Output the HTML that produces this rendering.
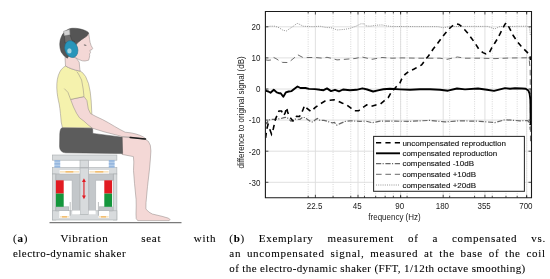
<!DOCTYPE html>
<html><head><meta charset="utf-8">
<style>
html,body{margin:0;padding:0;background:#fff;}
body{width:550px;height:279px;overflow:hidden;position:relative;}
svg{position:absolute;left:0;top:0;}
.gd{stroke:#bdbdbd;stroke-width:0.6;stroke-dasharray:1 1.3;fill:none}
.gm{stroke:#dcdcdc;stroke-width:0.9;fill:none}
.tk{stroke:#222;stroke-width:0.8;fill:none}
.c20{stroke:#8a8a8a;stroke-width:0.9;stroke-dasharray:1 1.2;fill:none}
.c10{stroke:#6a6a6a;stroke-width:1.0;stroke-dasharray:5.6 3.8;fill:none}
.cm10{stroke:#666;stroke-width:1.2;stroke-dasharray:5.2 1.4 1.1 1.7;fill:none}
.cc{stroke:#000;stroke-width:1.9;fill:none;stroke-linejoin:round}
.cu{stroke:#000;stroke-width:1.6;stroke-dasharray:5.2 4.2;fill:none}
.pt text{font-family:"Liberation Sans",sans-serif;font-size:8px;fill:#1a1a1a}
.lg text{stroke:#111;stroke-width:0.12px;fill:#111}
.cap{position:absolute;font-family:"Liberation Serif",serif;font-size:11px;color:#000;line-height:15px;letter-spacing:0.38px;-webkit-text-stroke:0.08px #000;}
.cap div{white-space:nowrap;}
.j{text-align:justify;text-align-last:justify;letter-spacing:0.72px;}
</style></head><body>
<svg width="550" height="279" viewBox="0 0 550 279">
<g id="illus">
<!-- floor -->
<line x1="49.5" y1="222.6" x2="181.5" y2="222.6" stroke="#7a7a7a" stroke-width="1.1"/>
<!-- seat / shaker -->
<g stroke="#a9adb0" stroke-width="0.6">
<rect x="52.3" y="155" width="64.6" height="5.2" fill="#d8dbdd"/>
<rect x="80" y="160.2" width="8.6" height="8" fill="#d8dbdd"/>
<rect x="52.3" y="167.6" width="64.6" height="6.4" fill="#d8dbdd"/>
<rect x="52.3" y="174" width="3.6" height="46" fill="#d8dbdd"/>
<rect x="113.3" y="174" width="3.6" height="46" fill="#d8dbdd"/>
<rect x="52.3" y="210.8" width="64.6" height="9.2" fill="#d8dbdd"/>
<!-- pole pieces -->
<path d="M55.9 174.4H79.8V210.6H72.2V180.3H55.9Z" fill="#c3c7ca"/>
<path d="M113.3 174.4H88.7V210.6H95.6V180.3H113.3Z" fill="#c3c7ca"/>
<rect x="55.9" y="206.8" width="12.8" height="4.1" fill="#c3c7ca"/>
<rect x="99.6" y="206.8" width="13" height="4.1" fill="#c3c7ca"/>
<rect x="80" y="168" width="8.6" height="46.3" fill="#d8dbdd"/>
</g>
<!-- springs -->
<rect x="54.4" y="160.2" width="5.8" height="7.4" fill="#b4cde9"/>
<rect x="108.8" y="160.2" width="5.8" height="7.4" fill="#b4cde9"/>
<g stroke="#7ea6d6" stroke-width="0.9">
<line x1="54.4" y1="160.9" x2="60.2" y2="160.9"/><line x1="54.4" y1="163.9" x2="60.2" y2="163.9"/><line x1="54.4" y1="166.9" x2="60.2" y2="166.9"/>
<line x1="108.8" y1="160.9" x2="114.6" y2="160.9"/><line x1="108.8" y1="163.9" x2="114.6" y2="163.9"/><line x1="108.8" y1="166.9" x2="114.6" y2="166.9"/>
</g>
<!-- slots -->
<rect x="59.6" y="170" width="20" height="3.6" fill="#fff"/>
<rect x="89" y="170" width="20" height="3.6" fill="#fff"/>
<path d="M59.3 211H69.6V218H59.3Z M72.2 210.6H80V214.3H72.2Z" fill="#fff"/>
<path d="M98.6 211H109V218H98.6Z M88.7 210.6H95.6V214.3H88.7Z" fill="#fff"/>
<g stroke="#f6d49a" stroke-width="1">
<line x1="60" y1="171.9" x2="79.2" y2="171.9"/>
<line x1="89.4" y1="171.9" x2="108.6" y2="171.9"/>
<line x1="60" y1="216.9" x2="69.2" y2="216.9"/>
<line x1="99" y1="216.9" x2="108.6" y2="216.9"/>
</g>
<g stroke="#eda640" stroke-width="1">
<line x1="65.5" y1="171.9" x2="73.3" y2="171.9"/>
<line x1="95.2" y1="171.9" x2="103.3" y2="171.9"/>
<line x1="62" y1="216.9" x2="67" y2="216.9"/>
<line x1="101" y1="216.9" x2="106" y2="216.9"/>
</g>
<!-- magnets -->
<rect x="55.9" y="180.3" width="7.8" height="13.3" fill="#e11b22"/>
<rect x="55.9" y="193.6" width="7.8" height="13.2" fill="#14963c"/>
<rect x="104.3" y="180.3" width="7.8" height="13.3" fill="#e11b22"/>
<rect x="104.3" y="193.6" width="7.8" height="13.2" fill="#14963c"/>
<!-- coil lines -->
<path d="M70.2 202V215.7M98.4 202V215.7" fill="none" stroke="#9ea2a5" stroke-width="0.7"/>
<!-- arrow -->
<g fill="#e11b22" stroke="none">
<rect x="83.4" y="180.5" width="1.1" height="16.5"/>
<path d="M83.95 178.3L85.9 182H82Z"/>
<path d="M83.95 199.2L85.9 195.5H82Z"/>
</g>
<!-- person -->
<g stroke="#8d8482" stroke-width="0.5" stroke-linejoin="round">
<!-- leg -->
<path d="M121 136.8L136 138L145 139.2L148.3 141.3L150.3 145.2L150.9 151L150.3 160L149.5 169L147.5 186.6L146 202.7L145.9 209L148.8 212L152.3 214L162 216.3L168.2 218.1L170.2 219.6L169.2 220.6H137.7L136.2 218.6L136 214L136.2 206L136.1 199.5L134.5 183.4L133.5 170.5L133.8 162L133.4 156.6L122 154.4Z" fill="#f4d8d6"/>
<!-- shorts -->
<path d="M62.6 127.4L92.6 128.3L92.8 133.4L122.2 137.2L122.6 153.6L66 152.8C61.5 152.6 59.6 150 59.6 146L59.8 134C60 130 60.8 128 62.6 127.4Z" fill="#5c5c5c" stroke="#4a4a4a"/>
<!-- torso -->
<path d="M65.5 66C63 67.5 61.5 69 60 71.5C57.5 76 56.6 82 56.8 88C57 94 58 99 59.2 104C60.2 110 60.8 117 61.2 122L62.4 127.6L91.8 127.8L91.8 113L91.2 101L90.2 91.6L88.5 83.5L85.6 76.5L82.5 72.6L80.3 71.2C74 70 69 68 65.5 66Z" fill="#f5f2ad"/>
<!-- neck -->
<path d="M65 57.3L65.5 66C69 68 74 70 80.3 71.2L79.9 69.7L79.2 62.2L76.2 58L70 56Z" fill="#f4d8d6"/>
<!-- arm -->
<path d="M70.6 99.4L73.5 107L76.5 113.2L79.5 117.8L83.8 121L88 124.8L92.4 128.2L104 131.8L117.5 135.3L121.5 136.4L129.6 137L137 137.8L145 139.6L146.3 139.3L143.8 137.2L140.2 135.4L136 134L131.2 132.9L125.2 132.2L120 129.5L114.6 126.4L108.5 122.8L102.6 119.6L96 116.5L90.5 113.6L88.3 109L86.9 100.5L84 96.6Z" fill="#f4d8d6"/>
<!-- sleeve -->
<path d="M64.3 88.6L67.9 92.3L70.6 99.4L84 96.6L83.2 89L81.6 80L78.5 74L76.8 71.6" fill="#f5f2ad"/>
<!-- face -->
<path d="M77.2 43L81.6 39.5L86.7 36.1L88.6 33.2L89.1 36L89.6 39.5L90.1 42.4L91.1 45.5L92.7 48.4L91.8 49.7L89.9 50.3L90.5 52.6L89.5 54L89.7 55.7L89.2 58.2L88.6 60.2L85 61L82.2 60.8L79 59.6L76.2 58L72 56Z" fill="#f4d8d6"/>
<!-- hair -->
<path d="M61.2 52C59.2 47 59.3 41 61.5 36.5C63.5 32 67.5 28.8 72 28.3C77 27.9 83 29.3 86.5 31.2C87.8 31.9 88.6 32.4 88.6 33.2L86.7 36.1L81.6 39.5L77.2 43L72 50L67.4 58.2L64 55.8Z" fill="#555555" stroke="#3a3a3a"/>
<!-- headband -->
<path d="M64.4 35.8L70 34.8L72 40.4L74.7 41.5L65 43Z" fill="#6e6e6e" stroke="#3a3a3a"/>
<path d="M63.6 31.2L69.6 29.4L70 34.8L64.4 35.8Z" fill="#d2d2d2" stroke="#8c8c8c"/>
</g>
<!-- ear muff -->
<ellipse cx="71.3" cy="49.1" rx="6.4" ry="8.6" transform="rotate(-18 71.3 49.1)" fill="#2895ba" stroke="#1b6f8e" stroke-width="0.5"/>
<ellipse cx="69.4" cy="50.9" rx="2.2" ry="2.6" fill="#a3d3e0"/>
<!-- eye -->
<path d="M83.9 44.9L86.3 45.4" stroke="#4a4a4a" stroke-width="0.8"/>
<!-- hand -->
<path d="M130.2 137.5L145.4 139" stroke="#1c1c1c" stroke-width="1.6" stroke-linecap="round"/>
</g>

<g class="pt">
<line x1="308.17" y1="11.5" x2="308.17" y2="197.8" class="gd"/>
<line x1="333.08" y1="11.5" x2="333.08" y2="197.8" class="gd"/>
<line x1="350.76" y1="11.5" x2="350.76" y2="197.8" class="gd"/>
<line x1="364.47" y1="11.5" x2="364.47" y2="197.8" class="gd"/>
<line x1="375.68" y1="11.5" x2="375.68" y2="197.8" class="gd"/>
<line x1="385.15" y1="11.5" x2="385.15" y2="197.8" class="gd"/>
<line x1="393.36" y1="11.5" x2="393.36" y2="197.8" class="gd"/>
<line x1="400.60" y1="11.5" x2="400.60" y2="197.8" class="gd"/>
<line x1="407.07" y1="11.5" x2="407.07" y2="197.8" class="gd"/>
<line x1="449.67" y1="11.5" x2="449.67" y2="197.8" class="gd"/>
<line x1="474.58" y1="11.5" x2="474.58" y2="197.8" class="gd"/>
<line x1="492.26" y1="11.5" x2="492.26" y2="197.8" class="gd"/>
<line x1="505.97" y1="11.5" x2="505.97" y2="197.8" class="gd"/>
<line x1="517.18" y1="11.5" x2="517.18" y2="197.8" class="gd"/>
<line x1="526.65" y1="11.5" x2="526.65" y2="197.8" class="gd"/>
<line x1="315.40" y1="11.5" x2="315.40" y2="197.8" class="gm"/>
<line x1="358.00" y1="11.5" x2="358.00" y2="197.8" class="gm"/>
<line x1="400.60" y1="11.5" x2="400.60" y2="197.8" class="gm"/>
<line x1="443.19" y1="11.5" x2="443.19" y2="197.8" class="gm"/>
<line x1="484.93" y1="11.5" x2="484.93" y2="197.8" class="gm"/>
<line x1="526.65" y1="11.5" x2="526.65" y2="197.8" class="gm"/>
<line x1="265.4" y1="26.80" x2="531.5" y2="26.80" class="gm"/>
<line x1="265.4" y1="57.90" x2="531.5" y2="57.90" class="gm"/>
<line x1="265.4" y1="89.00" x2="531.5" y2="89.00" class="gm"/>
<line x1="265.4" y1="120.10" x2="531.5" y2="120.10" class="gm"/>
<line x1="265.4" y1="151.20" x2="531.5" y2="151.20" class="gm"/>
<line x1="265.4" y1="182.30" x2="531.5" y2="182.30" class="gm"/>
<clipPath id="cl"><rect x="265.4" y="11.5" width="266.1" height="186.5"/></clipPath>
<g clip-path="url(#cl)">
<polyline points="265.2,27.1 270.0,26.2 275.0,26.2 279.0,27.7 283.0,30.3 286.5,30.9 290.0,28.4 294.0,25.8 297.0,23.3 300.0,24.5 303.0,26.2 308.0,26.5 313.0,26.7 320.0,26.2 326.0,27.5 331.0,27.7 337.0,30.0 345.0,29.3 350.0,28.4 356.0,26.2 361.0,23.7 364.0,23.9 366.0,25.8 370.0,26.2 376.0,25.2 382.0,24.9 386.0,25.8 392.0,26.5 400.0,26.5 420.0,26.6 438.0,26.6 443.0,27.8 450.0,26.5 470.0,26.4 488.0,26.4 494.5,29.0 500.0,26.5 515.0,26.4 527.0,26.2 529.5,27.5 530.3,35.0" class="c20"/>
<polyline points="265.4,59.8 268.0,60.3 271.0,60.0 273.5,57.4 276.0,58.6 279.0,60.6 282.5,62.4 287.3,62.5 290.5,60.9 294.9,57.3 297.8,54.8 302.5,57.3 308.0,57.5 315.0,57.5 322.0,58.1 327.0,57.3 332.0,58.4 337.0,59.9 345.0,59.3 355.0,58.5 362.0,57.0 372.0,59.3 382.0,57.5 392.0,58.2 402.0,57.9 420.0,58.2 440.0,58.2 447.0,59.3 457.4,57.0 465.0,58.2 480.0,58.2 495.0,58.6 510.0,58.0 527.0,57.8 529.2,59.5 530.2,70.0 530.5,144.0" class="c10"/>
<polyline points="265.4,121.5 266.5,123.5 268.0,121.0 270.0,119.5 275.0,119.3 280.0,118.8 284.0,117.6 287.0,117.4 291.0,121.2 295.0,119.2 300.0,119.3 302.5,117.5 305.5,117.5 307.5,119.6 310.0,121.1 313.0,122.2 315.5,119.6 317.5,118.5 320.0,120.4 324.0,120.4 327.0,121.1 329.5,122.2 332.5,122.9 334.5,122.5 337.0,125.2 340.0,123.6 345.0,121.5 350.0,120.8 360.0,121.3 366.0,121.2 372.0,122.7 380.0,121.2 395.0,121.2 410.0,121.3 430.0,120.4 445.0,121.9 460.0,120.8 480.0,121.3 495.0,122.6 505.0,119.7 520.0,120.8 527.5,120.6 529.5,122.5 530.3,130.0" class="cm10"/>
<polyline points="265.5,89.8 266.2,90.9 268.4,91.5 270.5,92.7 273.8,89.8 276.7,92.4 278.9,93.2 280.7,93.2 283.3,96.7 285.8,92.4 288.7,91.5 291.6,91.1 294.5,88.7 297.5,86.5 300.4,88.0 305.5,88.0 309.0,88.9 315.0,89.1 320.0,89.8 323.6,90.2 327.0,88.4 331.0,91.1 335.0,89.8 339.0,91.4 343.0,89.5 350.0,90.2 356.5,89.8 362.4,88.4 367.2,89.5 373.1,91.5 378.0,90.4 383.3,89.3 390.0,88.8 400.0,89.4 410.0,89.8 420.0,89.2 430.0,89.2 440.0,89.8 448.0,90.7 457.0,88.5 465.0,89.4 478.0,88.5 487.0,89.8 494.0,90.9 500.0,89.4 505.0,88.1 510.0,88.7 515.0,88.3 522.0,88.5 525.7,88.8 528.3,90.5 529.6,93.6 530.4,100.0 530.7,125.2" class="cc"/>
<polyline points="265.6,138.0 266.8,129.0 268.0,124.5 271.5,134.0 273.3,128.8 275.5,119.0 279.0,111.0 281.5,111.0 283.5,115.5 285.0,113.5 286.6,107.5 287.5,111.5 289.0,116.0 293.0,121.0 294.5,119.0 296.5,116.3 299.5,116.5 302.7,110.5 304.5,105.6 307.0,108.4 311.0,111.6 315.0,107.6 320.0,104.0 325.0,101.1 330.0,100.3 334.0,99.8 338.0,101.1 342.0,103.0 347.0,105.2 351.0,108.2 354.3,110.8 358.6,110.8 362.9,107.6 366.7,104.9 371.5,106.2 375.8,104.9 380.6,103.8 384.4,100.6 388.2,97.7 390.7,93.3 395.8,87.2 400.0,82.9 401.5,79.4 405.1,74.3 408.7,71.5 413.7,69.3 417.3,67.2 421.6,65.0 424.6,60.8 428.2,56.3 430.0,53.8 433.0,49.3 437.0,44.2 441.0,38.8 444.3,34.5 447.5,30.6 450.5,27.5 453.5,25.0 456.5,24.0 459.0,24.4 461.4,26.4 464.5,29.5 467.6,33.0 470.0,36.2 475.0,43.0 479.0,49.4 483.0,52.6 486.0,54.0 489.0,53.2 491.6,48.2 494.5,43.5 497.0,39.5 500.0,33.8 503.0,28.0 505.0,24.2 506.3,23.0 507.5,24.3 510.5,30.2 513.2,35.5 517.6,42.0 521.0,46.0 523.0,48.2 527.5,52.6 530.0,55.0 530.4,60.0" class="cu"/>
</g>
<path d="M308.17 197.8v-2.0M308.17 11.5v2.0M333.08 197.8v-2.0M333.08 11.5v2.0M350.76 197.8v-2.0M350.76 11.5v2.0M364.47 197.8v-2.0M364.47 11.5v2.0M375.68 197.8v-2.0M375.68 11.5v2.0M385.15 197.8v-2.0M385.15 11.5v2.0M393.36 197.8v-2.0M393.36 11.5v2.0M400.60 197.8v-2.0M400.60 11.5v2.0M407.07 197.8v-2.0M407.07 11.5v2.0M449.67 197.8v-2.0M449.67 11.5v2.0M474.58 197.8v-2.0M474.58 11.5v2.0M492.26 197.8v-2.0M492.26 11.5v2.0M505.97 197.8v-2.0M505.97 11.5v2.0M517.18 197.8v-2.0M517.18 11.5v2.0M526.65 197.8v-2.0M526.65 11.5v2.0M315.40 197.8v-3.0M315.40 11.5v3.0M358.00 197.8v-3.0M358.00 11.5v3.0M400.60 197.8v-3.0M400.60 11.5v3.0M443.19 197.8v-3.0M443.19 11.5v3.0M484.93 197.8v-3.0M484.93 11.5v3.0M526.65 197.8v-3.0M526.65 11.5v3.0M265.4 26.80h3M531.5 26.80h-3M265.4 57.90h3M531.5 57.90h-3M265.4 89.00h3M531.5 89.00h-3M265.4 120.10h3M531.5 120.10h-3M265.4 151.20h3M531.5 151.20h-3M265.4 182.30h3M531.5 182.30h-3" class="tk"/>
<path d="M265.4 11.5H531.5V197.8H265.4Z" fill="none" stroke="#1a1a1a" stroke-width="1.1"/>
<text transform="translate(260.4 30.10) scale(1 1.18)" text-anchor="end">20</text>
<text transform="translate(260.4 61.20) scale(1 1.18)" text-anchor="end">10</text>
<text transform="translate(260.4 92.30) scale(1 1.18)" text-anchor="end">0</text>
<text transform="translate(260.4 123.40) scale(1 1.18)" text-anchor="end">-10</text>
<text transform="translate(260.4 154.50) scale(1 1.18)" text-anchor="end">-20</text>
<text transform="translate(260.4 185.60) scale(1 1.18)" text-anchor="end">-30</text>
<text transform="translate(314.60 209.4) scale(1 1.18)" text-anchor="middle">22.5</text>
<text transform="translate(357.20 209.4) scale(1 1.18)" text-anchor="middle">45</text>
<text transform="translate(399.80 209.4) scale(1 1.18)" text-anchor="middle">90</text>
<text transform="translate(442.39 209.4) scale(1 1.18)" text-anchor="middle">180</text>
<text transform="translate(484.13 209.4) scale(1 1.18)" text-anchor="middle">355</text>
<text transform="translate(525.85 209.4) scale(1 1.18)" text-anchor="middle">700</text>
<text transform="translate(394.5 220.2) scale(1 1.1)" text-anchor="middle">frequency (Hz)</text>
<text transform="translate(244.4 112.4) rotate(-90) scale(1 1.1)" text-anchor="middle">difference to original signal (dB)</text>
<!-- legend -->
<rect x="373.6" y="136.4" width="150.8" height="54.9" fill="#fff" stroke="#2a2a2a" stroke-width="1.05"/>
<line x1="376" y1="142.7" x2="400.5" y2="142.7" class="cu"/>
<line x1="376" y1="153.3" x2="400" y2="153.3" class="cc"/>
<line x1="376" y1="163.7" x2="400" y2="163.7" class="cm10"/>
<line x1="376" y1="174.3" x2="400" y2="174.3" class="c10"/>
<line x1="376" y1="185" x2="400" y2="185" class="c20"/>
<g class="lg"><text x="402.4" y="145.6">uncompensated reproduction</text>
<text x="402.4" y="155.9">compensated reproduction</text>
<text x="402.4" y="166.3">compensated -10dB</text>
<text x="402.4" y="176.9">compensated +10dB</text>
<text x="402.4" y="187.6">compensated +20dB</text></g>
</g>
</svg>
<div class="cap" style="left:13px;top:231px;width:203.3px;letter-spacing:0.46px;">
<div class="j">(<b>a</b>) Vibration seat with</div>
<div>electro-dynamic shaker</div>
</div>
<div class="cap" style="left:229.3px;top:231px;width:316.6px;">
<div class="j">(<b>b</b>) Exemplary measurement of a compensated vs.</div>
<div class="j">an uncompensated signal, measured at the base of the coil</div>
<div>of the electro-dynamic shaker (FFT, 1/12th octave smoothing)</div>
</div>
</body></html>
